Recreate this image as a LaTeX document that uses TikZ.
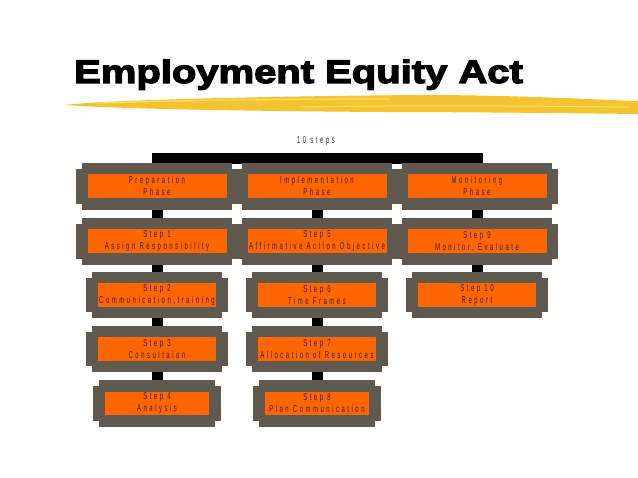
\documentclass[tikz,border=0pt]{standalone}
\usepackage{fontspec}
\usetikzlibrary{backgrounds}

\newfontfamily\titlefont{Liberation Sans Bold}[FakeStretch=1.23,RawFeature={embolden=4}]
\newfontfamily\stepfont{Liberation Sans}[FakeStretch=0.6,LetterSpace=25]

\definecolor{boxgray}{RGB}{95,89,80}
\definecolor{boxorange}{RGB}{255,102,0}
\definecolor{steptext}{RGB}{60,25,10}
\definecolor{brush}{RGB}{244,196,48}
\definecolor{brushlight}{RGB}{250,222,110}

\tikzset{
    phase/.style={fill=boxorange, inner sep=0pt, minimum height=24pt},
    big/.style={phase, minimum width=139pt},
    mid/.style={phase, minimum width=118pt, minimum height=23.5pt},
    small/.style={phase, minimum width=104pt, minimum height=23.5pt},
    words/.style={font=\stepfont\fontsize{10}{12}\selectfont, text=steptext, align=center},
    link/.style={line width=11pt},
    frame/.style={fill=boxgray}
}

\begin{document}
\begin{tikzpicture}[x=1pt, y=-1pt]
    \useasboundingbox (0,0) rectangle (638,478);

    \fill[brush] (64,105) .. controls (120,99) and (300,96) .. (420,95)
        .. controls (520,95) and (600,100) .. (638,101) -- (638,114)
        .. controls (560,113) and (450,112) .. (380,112)
        .. controls (250,111) and (120,109) .. (64,105) -- cycle;
    \draw[brushlight, line width=1.2pt] (95,103) .. controls (200,100) and (300,99) .. (390,99);
    \draw[brushlight, line width=1pt] (300,107) .. controls (420,105) and (520,106) .. (630,107);

    \node[anchor=base west, inner xsep=0pt, font=\titlefont\fontsize{32.5}{32.5}\selectfont] (title) at (74,83) {Employment Equity Act};

    \node[words, text=black!80] (root) at (316,141) {10 steps};
    \coordinate (bar) at (317,158.5);

    \node[big, label={[words]center:Preparation\\Phase}] (prep) at (157,186.3) {};
    \node[big, label={[words]center:Implementation\\Phase}] (impl) at (317,186.3) {};
    \node[big, label={[words]center:Monitoring\\Phase}] (moni) at (477,186.3) {};

    \node[big, label={[words]center:Step 1\\Assign Responsibility}] (s1) at (157,241.3) {};
    \node[mid, label={[words]center:Step 2\\Communication,training}] (s2) at (157,295) {};
    \node[mid, label={[words]center:Step 3\\Consultaion}] (s3) at (157,349) {};
    \node[small, label={[words]center:Step 4\\Analysis}] (s4) at (157,403.3) {};

    \node[big, label={[words]center:Step 5\\Affirmative Action Objective}] (s5) at (317,241.3) {};
    \node[mid, label={[words]center:Step 6\\Time Frames}] (s6) at (317,295) {};
    \node[mid, label={[words]center:Step 7\\Allocation of Resources}] (s7) at (317,349) {};
    \node[small, label={[words]center:Step 8\\Plan Communication}] (s8) at (317,403.3) {};

    \node[big, label={[words]center:Step 9\\Monitor, Evaluate}] (s9) at (477,241.3) {};
    \node[mid, label={[words]center:Step 10\\Report}] (s10) at (477,295) {};

    \begin{pgfonlayer}{background}
        \draw[link, line cap=rect] (prep.north |- bar) -- (moni.north |- bar);
        \draw[link] (prep) -- (s1) -- (s2) -- (s3) -- (s4);
        \draw[link] (impl) -- (s5) -- (s6) -- (s7) -- (s8);
        \draw[link] (moni) -- (s9) -- (s10);
        \foreach \n in {prep,impl,moni,s1,s2,s3,s4,s5,s6,s7,s8,s9,s10} {
            \fill[frame] ([xshift=-5.5pt,yshift=11.5pt]\n.north west) rectangle ([xshift=5.5pt,yshift=-11.5pt]\n.south east);
            \fill[frame] ([xshift=-11.5pt,yshift=5.5pt]\n.north west) rectangle ([xshift=11.5pt,yshift=-5.5pt]\n.south east);
        }
    \end{pgfonlayer}
\end{tikzpicture}
\end{document}
